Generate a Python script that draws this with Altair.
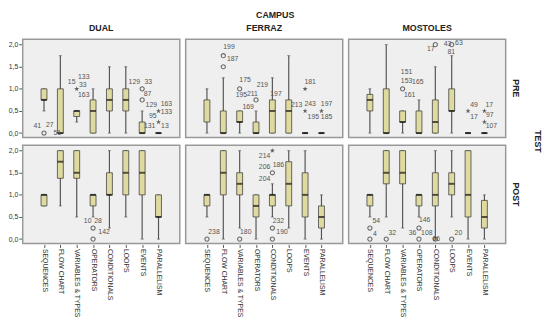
import altair as alt
import pandas as pd

categories = ["SEQUENCES", "FLOW CHART", "VARIABLES & TYPES", "OPERATORS",
              "CONDITIONALS", "LOOPS", "EVENTS", "PARALLELISM"]
campuses = ["DUAL", "FERRAZ", "MOSTOLES"]
tests = ["PRE", "POST"]

# box statistics per panel: whisker low, Q1, median, Q3, whisker high
dual_pre = dict(lo=[0.5, 0, 0.25, 0, 0, 0, 0, 0],
                q1=[0.75, 0, 0.375, 0, 0.5, 0.5, 0, 0],
                med=[0.75, 0, 0.5, 0.5, 0.75, 0.75, 0, 0],
                q3=[1.0, 1.0, 0.5, 0.75, 1.0, 1.0, 0.25, 0],
                hi=[1.0, 1.75, 0.5, 1.0, 1.5, 1.5, 0.5, 0])
ferraz_pre = dict(lo=[0, 0, 0, 0, 0, 0, 0, 0],
                  q1=[0.25, 0, 0.25, 0, 0, 0, 0, 0],
                  med=[None, 0, 0.25, 0, 0.5, 0.5, 0, 0],
                  q3=[0.75, 0.5, 0.5, 0.25, 0.75, 0.75, 0, 0],
                  hi=[1.0, 1.25, 0.5, 0.5, 1.25, 1.75, 0, 0])
mostoles_pre = dict(lo=[0, 0, 0, 0, 0, 0, 0, 0],
                    q1=[0.5, 0, 0.25, 0, 0, 0.5, 0, 0],
                    med=[0.75, 0, 0.25, 0, 0.25, 0.5, 0, 0],
                    q3=[0.875, 1.0, 0.5, 0.5, 0.75, 1.0, 0, 0],
                    hi=[1.0, 2.0, 0.5, 0.75, 1.5, 1.75, 0, 0])
dual_post = dict(lo=[0.75, 0.75, 0.5, 0.5, 0.25, 0.5, 0, 0],
                 q1=[0.75, 1.375, 1.375, 0.75, 1.0, 1.0, 1.0, 0.5],
                 med=[1.0, 1.75, 1.5, 1.0, 1.0, 1.5, 1.5, 0.5],
                 q3=[1.0, 2.0, 2.0, 1.0, 1.5, 2.0, 2.0, 1.0],
                 hi=[1.0, 2.0, 2.0, 1.0, 2.0, 2.0, 2.0, 1.0])
ferraz_post = dict(lo=[0.5, 0, 0.25, 0, 0.5, 0.25, 0, 0],
                   q1=[0.75, 1.0, 1.0, 0.5, 0.75, 0.75, 0.5, 0.25],
                   med=[1.0, 1.5, 1.25, 0.75, 1.0, 1.25, 1.0, 0.5],
                   q3=[1.0, 2.0, 1.5, 1.0, 1.0, 1.75, 1.5, 0.75],
                   hi=[1.0, 2.0, 2.0, 1.0, 1.25, 2.0, 2.0, 1.0])
mostoles_post = dict(lo=[0.5, 0.5, 0.25, 0.5, 0, 0.5, 0, 0],
                     q1=[0.75, 1.25, 1.25, 0.75, 0.75, 1.0, 0.5, 0.25],
                     med=[1.0, 1.5, 1.5, 1.0, 1.0, 1.25, 1.0, 0.5],
                     q3=[1.0, 2.0, 2.0, 1.0, 1.5, 1.5, 2.0, 0.875],
                     hi=[1.0, 2.0, 2.0, 1.0, 2.0, 2.0, 2.0, 1.0])

panels = {("DUAL", "PRE"): dual_pre, ("FERRAZ", "PRE"): ferraz_pre,
          ("MOSTOLES", "PRE"): mostoles_pre, ("DUAL", "POST"): dual_post,
          ("FERRAZ", "POST"): ferraz_post, ("MOSTOLES", "POST"): mostoles_post}

# outliers: (campus, test, category index, value, kind) o = circle, * = extreme
outliers = [
    ("DUAL", "PRE", 0, 0.0, "o"), ("DUAL", "PRE", 2, 1.0, "*"),
    ("DUAL", "PRE", 6, 1.0, "o"), ("DUAL", "PRE", 6, 0.75, "o"),
    ("DUAL", "PRE", 7, 0.5, "*"), ("DUAL", "PRE", 7, 0.25, "*"),
    ("FERRAZ", "PRE", 1, 1.75, "o"), ("FERRAZ", "PRE", 1, 1.5, "o"),
    ("FERRAZ", "PRE", 2, 1.0, "o"), ("FERRAZ", "PRE", 3, 0.75, "o"),
    ("FERRAZ", "PRE", 6, 1.0, "*"), ("FERRAZ", "PRE", 6, 0.5, "*"),
    ("FERRAZ", "PRE", 7, 0.5, "*"),
    ("MOSTOLES", "PRE", 2, 1.0, "o"), ("MOSTOLES", "PRE", 4, 2.0, "o"),
    ("MOSTOLES", "PRE", 5, 2.0, "o"), ("MOSTOLES", "PRE", 6, 0.5, "*"),
    ("MOSTOLES", "PRE", 7, 0.5, "*"), ("MOSTOLES", "PRE", 7, 0.25, "*"),
    ("DUAL", "POST", 3, 0.25, "o"), ("DUAL", "POST", 3, 0.0, "o"),
    ("FERRAZ", "POST", 0, 0.0, "o"), ("FERRAZ", "POST", 2, 0.0, "o"),
    ("FERRAZ", "POST", 4, 2.0, "*"), ("FERRAZ", "POST", 4, 1.5, "o"),
    ("FERRAZ", "POST", 4, 0.25, "o"), ("FERRAZ", "POST", 4, 0.0, "o"),
    ("MOSTOLES", "POST", 0, 0.25, "o"), ("MOSTOLES", "POST", 0, 0.0, "o"),
    ("MOSTOLES", "POST", 1, 0.0, "o"), ("MOSTOLES", "POST", 3, 0.25, "o"),
    ("MOSTOLES", "POST", 3, 0.0, "o"), ("MOSTOLES", "POST", 4, 0.0, "o"),
    ("MOSTOLES", "POST", 5, 0.0, "o"),
]

# case-number labels: (campus, test, x position in category units, value, text)
case_labels = [
    ("DUAL", "PRE", -0.41, 0.17, "41"), ("DUAL", "PRE", 0.35, 0.18, "27"),
    ("DUAL", "PRE", 0.81, 0.0, "51"), ("DUAL", "PRE", 1.69, 1.16, "15"),
    ("DUAL", "PRE", 2.43, 1.27, "133"), ("DUAL", "PRE", 2.37, 1.08, "33"),
    ("DUAL", "PRE", 2.43, 0.87, "163"), ("DUAL", "PRE", 5.52, 1.16, "129"),
    ("DUAL", "PRE", 6.37, 1.16, "33"), ("DUAL", "PRE", 6.33, 0.89, "87"),
    ("DUAL", "PRE", 6.56, 0.64, "129"), ("DUAL", "PRE", 7.48, 0.66, "163"),
    ("DUAL", "PRE", 7.48, 0.47, "133"), ("DUAL", "PRE", 6.65, 0.39, "95"),
    ("DUAL", "PRE", 6.46, 0.15, "131"), ("DUAL", "PRE", 7.39, 0.15, "13"),
    ("FERRAZ", "PRE", 1.35, 1.95, "199"), ("FERRAZ", "PRE", 1.57, 1.68, "187"),
    ("FERRAZ", "PRE", 2.33, 1.19, "175"), ("FERRAZ", "PRE", 2.11, 0.87, "195"),
    ("FERRAZ", "PRE", 2.78, 0.89, "211"), ("FERRAZ", "PRE", 2.52, 0.59, "169"),
    ("FERRAZ", "PRE", 3.39, 1.08, "219"), ("FERRAZ", "PRE", 4.22, 0.89, "197"),
    ("FERRAZ", "PRE", 5.48, 0.64, "213"), ("FERRAZ", "PRE", 6.31, 1.16, "181"),
    ("FERRAZ", "PRE", 6.31, 0.65, "243"), ("FERRAZ", "PRE", 6.5, 0.37, "195"),
    ("FERRAZ", "PRE", 7.31, 0.66, "197"), ("FERRAZ", "PRE", 7.31, 0.37, "185"),
    ("MOSTOLES", "PRE", 2.24, 1.37, "151"), ("MOSTOLES", "PRE", 2.24, 1.17, "153"),
    ("MOSTOLES", "PRE", 2.93, 1.16, "165"), ("MOSTOLES", "PRE", 2.43, 0.87, "161"),
    ("MOSTOLES", "PRE", 3.72, 1.89, "17"), ("MOSTOLES", "PRE", 4.74, 2.02, "43"),
    ("MOSTOLES", "PRE", 5.44, 2.04, "63"), ("MOSTOLES", "PRE", 4.98, 1.83, "81"),
    ("MOSTOLES", "PRE", 6.37, 0.64, "49"), ("MOSTOLES", "PRE", 6.37, 0.37, "17"),
    ("MOSTOLES", "PRE", 7.3, 0.64, "17"), ("MOSTOLES", "PRE", 7.33, 0.4, "97"),
    ("MOSTOLES", "PRE", 7.43, 0.15, "107"),
    ("DUAL", "POST", 2.67, 0.40, "10"), ("DUAL", "POST", 3.3, 0.40, "28"),
    ("DUAL", "POST", 3.67, 0.15, "142"),
    ("FERRAZ", "POST", 0.43, 0.16, "238"), ("FERRAZ", "POST", 2.37, 0.16, "180"),
    ("FERRAZ", "POST", 3.52, 1.87, "214"), ("FERRAZ", "POST", 3.52, 1.64, "206"),
    ("FERRAZ", "POST", 4.37, 1.68, "186"), ("FERRAZ", "POST", 3.52, 1.36, "204"),
    ("FERRAZ", "POST", 4.37, 0.41, "232"), ("FERRAZ", "POST", 4.59, 0.16, "190"),
    ("MOSTOLES", "POST", 0.39, 0.41, "54"), ("MOSTOLES", "POST", 0.3, 0.12, "4"),
    ("MOSTOLES", "POST", 1.37, 0.14, "32"), ("MOSTOLES", "POST", 3.35, 0.43, "146"),
    ("MOSTOLES", "POST", 3.48, 0.14, "108"), ("MOSTOLES", "POST", 2.61, 0.14, "36"),
    ("MOSTOLES", "POST", 4.05, 0.0, "66"), ("MOSTOLES", "POST", 5.41, 0.14, "20"),
]

rows = []
for (c, t), s in panels.items():
    for i in range(len(categories)):
        rows.append(dict(kind="box", campus=c, test=t, x=i, lo=s["lo"][i], q1=s["q1"][i],
                         med=s["med"][i], q3=s["q3"][i], hi=s["hi"][i]))
for c, t, i, v, k in outliers:
    rows.append(dict(kind="circle" if k == "o" else "star", campus=c, test=t, x=i, y=v))
for c, t, xp, v, txt in case_labels:
    rows.append(dict(kind="label", campus=c, test=t, x=xp, y=v, text=txt))
df = pd.DataFrame(rows)

xscale = alt.Scale(domain=[-1, 8], nice=False, zero=False)
yscale = alt.Scale(domain=[-0.1, 2.12], nice=False, zero=False)
lab_expr = "[" + ",".join("'%s'" % c for c in categories) + "][datum.value]"
xaxis = alt.Axis(values=list(range(8)), labelExpr=lab_expr, labelAngle=90, labelAlign="left",
                 labelBaseline="middle", labelFontSize=7, labelColor="#333", grid=False,
                 domain=False, tickSize=3, tickColor="#555", labelPadding=1, title=None)
yaxis = alt.Axis(values=[0, 0.5, 1, 1.5, 2],
                 labelExpr="replace(format(datum.value, '.1f'), '.', ',')",
                 labelFontSize=7, labelColor="#333", grid=False, domain=False, tickSize=3,
                 tickColor="#555", labelPadding=1, title=None)

X = alt.X("x:Q", scale=xscale, axis=xaxis)
base = alt.Chart()

whisk = base.mark_rule(color="#555", strokeWidth=1.2).encode(
    x=X, y=alt.Y("lo:Q", scale=yscale, axis=yaxis), y2="hi:Q"
).transform_filter("datum.kind == 'box'")
cap_lo = base.mark_tick(orient="horizontal", size=3, thickness=1, color="#555").encode(
    x=X, y=alt.Y("lo:Q", scale=yscale, axis=yaxis)).transform_filter("datum.kind == 'box'")
cap_hi = base.mark_tick(orient="horizontal", size=3, thickness=1, color="#555").encode(
    x=X, y=alt.Y("hi:Q", scale=yscale, axis=yaxis)).transform_filter("datum.kind == 'box'")
box = base.mark_bar(width=6, fill="#DFDA9F", stroke="#444", strokeWidth=0.8).encode(
    x=X, y=alt.Y("q1:Q", scale=yscale, axis=yaxis), y2="q3:Q"
).transform_filter("datum.kind == 'box'")
med = base.mark_tick(orient="horizontal", size=6, thickness=2, color="#111").encode(
    x=X, y=alt.Y("med:Q", scale=yscale, axis=yaxis)
).transform_filter("datum.kind == 'box' && isValid(datum.med)")
circ = base.mark_point(shape="circle", size=18, filled=False, color="#333", strokeWidth=1.1).encode(
    x=X, y=alt.Y("y:Q", scale=yscale, axis=yaxis)).transform_filter("datum.kind == 'circle'")
star_path = ("M0,-1L0.224,-0.309L0.951,-0.309L0.363,0.118L0.588,0.809L0,0.382"
             "L-0.588,0.809L-0.363,0.118L-0.951,-0.309L-0.224,-0.309Z")
star = base.mark_point(shape=star_path, size=30, filled=True, color="#222").encode(
    x=X, y=alt.Y("y:Q", scale=yscale, axis=yaxis)).transform_filter("datum.kind == 'star'")
txt = base.mark_text(fontSize=7, color="#555", align="center", baseline="middle").encode(
    x=X, y=alt.Y("y:Q", scale=yscale, axis=yaxis), text="text:N"
).transform_filter("datum.kind == 'label'")

layered = alt.layer(whisk, cap_lo, cap_hi, box, med, circ, star, txt).properties(
    width=160, height=100)

chart = layered.facet(
    data=df,
    column=alt.Column("campus:N", sort=campuses, title=None,
                      header=alt.Header(labelFontSize=9, labelFontWeight="bold",
                                        labelPadding=5, labelColor="#222")),
    row=alt.Row("test:N", sort=tests, title="TEST",
                header=alt.Header(labelOrient="right", titleOrient="right", labelAngle=90,
                                  titleAngle=90, labelFontSize=9, labelFontWeight="bold",
                                  titleFontSize=9, titleFontWeight="bold",
                                  labelPadding=4, titlePadding=4,
                                  labelColor="#222", titleColor="#222")),
    spacing={"row": 6, "column": 4},
).properties(
    title=alt.TitleParams("CAMPUS", fontSize=9, fontWeight="bold", color="#222",
                          anchor="middle", offset=4)
).resolve_scale(x="shared", y="shared").configure(
    font="Liberation Sans", padding=0
).configure_view(fill="#EFEFEF", stroke="#999", strokeWidth=1.5)

chart.save("out.html", embed_options={"renderer": "svg", "actions": False})
